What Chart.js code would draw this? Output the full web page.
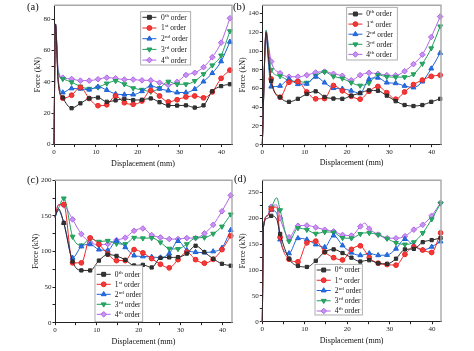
<!DOCTYPE html>
<html>
<head>
<meta charset="utf-8">
<script src="https://cdn.jsdelivr.net/npm/chart.js@4.4.1/dist/chart.umd.min.js"></script>
<style>
  body { margin:0; background:#fff; width:474px; height:351px; position:relative; overflow:hidden; font-family:"Liberation Serif", serif; }
  .panel { position:absolute; }
  .tag { position:absolute; font-size:10.5px; line-height:1; color:#111; }
</style>
</head>
<body>
<canvas id="chart_a" class="panel" width="237" height="175" style="left:0;top:0"></canvas>
<canvas id="chart_b" class="panel" width="237" height="175" style="left:237px;top:0"></canvas>
<canvas id="chart_c" class="panel" width="237" height="176" style="left:0;top:175px"></canvas>
<canvas id="chart_d" class="panel" width="237" height="176" style="left:237px;top:175px"></canvas>
<div class="tag" style="left:27px;top:2px">(a)</div>
<div class="tag" style="left:233px;top:2px">(b)</div>
<div class="tag" style="left:27px;top:175px">(c)</div>
<div class="tag" style="left:234px;top:174px">(d)</div>
<script>
// displacement (mm) - markers sit every 2.1 mm, the first points are the initial peak
var disp_a = [0, 0.35, 1.0, 2.1, 4.2, 6.3, 8.4, 10.5, 12.6, 14.7, 16.8, 18.9, 21, 23.1, 25.2, 27.3, 29.4, 31.5, 33.6, 35.7, 37.8, 39.9, 42];
var force_a0 = [0, 77, 40, 30, 23.2, 26.3, 29.4, 30, 27.3, 28.2, 29.2, 28.4, 28.6, 29.4, 27, 24.9, 24.9, 25, 23.6, 25, 34, 37.3, 38.5];
var force_a1 = [0, 77, 40, 29.6, 31.5, 36.5, 29.4, 24.8, 25.4, 31, 26.7, 25.7, 27.8, 34.5, 31, 27.2, 28.6, 30.4, 31, 29.8, 33.6, 42.3, 47.5];
var force_a2 = [0, 77, 42, 33.2, 35.8, 35.6, 35, 36.9, 34.8, 32.3, 31.9, 31.9, 34, 37.5, 35.6, 34.4, 33.2, 33.2, 35.4, 40.2, 45.6, 53.1, 65.6];
var force_a3 = [0, 77, 46, 41.9, 39.8, 37.1, 35.6, 36.5, 39, 40.6, 38.5, 36, 35, 33.8, 36, 40.2, 38.5, 38.5, 40.6, 45, 50.6, 56.9, 72.4];
var force_a4 = [0, 77, 48, 42.7, 41.9, 40.8, 40.8, 41.7, 42.7, 42.3, 41.5, 41.5, 41, 41, 39.5, 38, 40, 44.4, 45.8, 49.4, 55.8, 65.1, 80.7];

var disp_b = [0, 0.9, 1.4, 2.1, 4.2, 6.3, 8.4, 10.5, 12.6, 14.7, 16.8, 18.9, 21, 23.1, 25.2, 27.3, 29.4, 31.5, 33.6, 35.7, 37.8, 39.9, 42];
var force_b0 = [0, 120, 95, 68, 50.7, 45.8, 49, 54.2, 57, 51, 49.3, 49, 52.4, 55.2, 58, 57.6, 52.4, 46.5, 42.4, 41.3, 42.4, 45.8, 49];
var force_b1 = [0, 120, 98, 70.2, 50.7, 66.7, 67.4, 56.3, 49, 49.3, 63.2, 57.6, 51.7, 48.6, 57, 62.2, 55.6, 48.6, 56.3, 64.2, 69, 73, 74.3];
var force_b2 = [0, 118, 90, 62, 62.8, 70, 64.6, 65, 72.6, 66.3, 60.4, 59.7, 57.6, 54.9, 70.1, 71.5, 66.3, 65.6, 62.8, 61.1, 67.4, 81.3, 98];
var force_b3 = [0, 122, 105, 80, 73.3, 68.4, 67.7, 66.3, 73.6, 77.8, 72.9, 70.8, 66.3, 63.2, 66, 74.7, 72.6, 72.2, 72.2, 75.3, 86.5, 103, 126.4];
var force_b4 = [0, 122, 108, 88.9, 76.4, 72.6, 72.6, 74.3, 77.1, 78.1, 75.7, 73.6, 68.8, 74.3, 76.7, 75.7, 74.3, 74, 78.5, 86.1, 96.2, 115, 136.8];

var disp_c = [0, 0.8, 2.1, 4.2, 6.3, 8.4, 10.5, 12.6, 14.7, 16.8, 18.9, 21, 23.1, 25.2, 27.3, 29.4, 31.5, 33.6, 35.7, 37.8, 39.9, 42];
var force_c0 = [148, 160, 140, 85.9, 73.4, 73.3, 87.2, 95.6, 93.7, 88.2, 80.3, 81.2, 77.5, 91, 91.6, 92, 97, 108, 99, 89.7, 82.7, 80];
var force_c1 = [148, 165, 166, 84, 84, 119, 110, 96.5, 87.2, 87.2, 102.5, 98, 90, 82, 77, 88.5, 99, 88.5, 83.5, 89, 102.6, 122];
var force_c2 = [148, 158, 140, 91, 107, 110, 102.6, 101.6, 115, 105.8, 94.2, 93, 92.3, 91.4, 97, 114.5, 102, 99, 98.5, 100, 105, 130];
var force_c3 = [148, 160, 174.5, 120.8, 108.5, 118.3, 113.7, 115, 111, 110.4, 119.3, 118.5, 119, 112.8, 104, 103.5, 110.3, 119, 119.5, 125, 135, 152];
var force_c4 = [148, 166, 164.7, 145, 124.4, 112.8, 109.5, 110.4, 116, 119.3, 129, 132.3, 123, 119.7, 117.4, 117.4, 118.8, 118.8, 125.3, 137.4, 156.4, 178.7];

var disp_d = [0, 0.3, 1.2, 2.1, 3.4, 4.2, 6.3, 8.4, 10.5, 12.6, 14.7, 16.8, 18.9, 21, 23.1, 24.1, 25.2, 27.3, 29.4, 31.5, 33.6, 35.7, 37.8, 39.9, 42];
var force_d0 = [0, 185, 200, 205, 198, 170, 122, 108, 106, 118, 135, 140, 133, 124, 116.5, 118, 119, 113, 112, 122, 140, 141, 154, 158, 162];
var force_d1 = [0, 185, 205, 218, 222, 163.5, 121, 116, 152.7, 156, 135, 124, 119.6, 140, 147, 138, 124, 113.3, 110.7, 109.5, 130.5, 145, 138.7, 134, 172];
var force_d2 = [0, 185, 205, 216, 210, 159, 132.3, 161.6, 159, 149.5, 144.4, 166.7, 147.6, 133.6, 128.6, 130, 132.4, 128.6, 129.2, 141.2, 160, 147, 138.7, 145, 155.3];
var force_d3 = [0, 185, 205, 220, 240, 216, 155.8, 181.3, 178, 170.5, 173.7, 173, 162.2, 161.6, 170, 172, 171.8, 168.7, 161, 152.7, 149.6, 154, 171.8, 198.5, 229];
var force_d4 = [0, 185, 205, 222.6, 226, 200.4, 163.5, 185.8, 186.4, 182.6, 178.1, 174.9, 168, 166.7, 184.5, 191, 180, 168.7, 161.6, 161.6, 165.5, 178.2, 187.7, 205, 230.3];

var order_num = ['0', '1', '2', '3', '4'];
var order_sup = ['th', 'st', 'nd', 'rd', 'th'];

// estilo de cada ordem
var line_colors = ['#2b2b2b', '#ee2424', '#1d62d6', '#1f9e5c', '#b067e6'];
var fill_colors = ['#333333', '#f03a3a', '#2a6ee0', '#2aa866', '#c891f2'];
var shapes = ['rect', 'circle', 'triangle', 'down', 'rectRot'];
var sizes = [2.3, 2.4, 2.8, 2.8, 2.8];

var serif = 'Liberation Serif';

function isMarker(x) {
  var k = x / 2.1;
  return k > 0.5 && Math.abs(k - Math.round(k)) < 1e-6;
}

function drawMarker(ctx, i, x, y) {
  var r = sizes[i];
  ctx.fillStyle = fill_colors[i];
  ctx.strokeStyle = line_colors[i];
  ctx.lineWidth = 1;
  ctx.beginPath();
  if (shapes[i] == 'rect') {
    ctx.rect(x - r * 0.85, y - r * 0.85, r * 1.7, r * 1.7);
  } else if (shapes[i] == 'circle') {
    ctx.arc(x, y, r, 0, Math.PI * 2);
  } else if (shapes[i] == 'triangle') {
    ctx.moveTo(x, y - r); ctx.lineTo(x + r * 0.87, y + r * 0.5); ctx.lineTo(x - r * 0.87, y + r * 0.5); ctx.closePath();
  } else if (shapes[i] == 'down') {
    ctx.moveTo(x, y + r); ctx.lineTo(x + r * 0.87, y - r * 0.5); ctx.lineTo(x - r * 0.87, y - r * 0.5); ctx.closePath();
  } else {
    ctx.moveTo(x, y - r); ctx.lineTo(x + r, y); ctx.lineTo(x, y + r); ctx.lineTo(x - r, y); ctx.closePath();
  }
  ctx.fill();
  ctx.stroke();
}

// legenda com sobrescrito (0th, 1st ...), o legend normal nao faz isso
var orderLegend = {
  id: 'orderLegend',
  afterDraw: function (chart, args, o) {
    var ctx = chart.ctx;
    ctx.save();
    ctx.fillStyle = '#fff';
    ctx.strokeStyle = '#9a9a9a';
    ctx.lineWidth = 0.8;
    ctx.fillRect(o.x, o.y, o.w, o.h);
    ctx.strokeRect(o.x, o.y, o.w, o.h);
    for (var i = 0; i < 5; i++) {
      var yy = o.y + o.first + i * o.gap;
      ctx.strokeStyle = line_colors[i];
      ctx.lineWidth = 1;
      ctx.beginPath();
      ctx.moveTo(o.x + 1.7, yy);
      ctx.lineTo(o.x + 15.7, yy);
      ctx.stroke();
      drawMarker(ctx, i, o.x + 8.7, yy);
      ctx.fillStyle = '#111';
      ctx.textBaseline = 'middle';
      ctx.font = '7.5px "' + serif + '"';
      var tx = o.x + o.text;
      ctx.fillText(order_num[i], tx, yy + 0.5);
      tx += ctx.measureText(order_num[i]).width;
      ctx.font = '5px "' + serif + '"';
      ctx.fillText(order_sup[i], tx + 0.3, yy - 2);
      tx += ctx.measureText(order_sup[i]).width + 0.3;
      ctx.font = '7.5px "' + serif + '"';
      ctx.fillText(' order', tx, yy + 0.5);
    }
    ctx.restore();
  }
};

// moldura cinza em cima e na direita
var topRightFrame = {
  id: 'topRightFrame',
  afterDatasetsDraw: function (chart) {
    var a = chart.chartArea;
    var ctx = chart.ctx;
    ctx.save();
    ctx.strokeStyle = '#a8a8a8';
    ctx.lineWidth = 1.4;
    ctx.beginPath();
    ctx.moveTo(a.left, a.top);
    ctx.lineTo(a.right, a.top);
    ctx.lineTo(a.right, a.bottom);
    ctx.stroke();
    ctx.restore();
  }
};

function makeChart(id, disp, forces, L) {
  var datasets = [];
  for (var i = 0; i < forces.length; i++) {
    var ys = forces[i];
    var r = sizes[i];
    datasets.push({
      label: order_num[i] + order_sup[i] + ' order',
      data: disp.map(function (x, j) { return { x: x, y: ys[j] }; }),
      borderColor: line_colors[i],
      backgroundColor: fill_colors[i],
      borderWidth: 1,
      pointStyle: shapes[i] == 'down' ? 'triangle' : shapes[i],
      pointRotation: shapes[i] == 'down' ? 180 : 0,
      pointRadius: disp.map(function (x) { return isMarker(x) ? r : 0; }),
      pointBorderWidth: 1,
      cubicInterpolationMode: 'monotone',
      clip: 5
    });
  }

  new Chart(document.getElementById(id), {
    type: 'line',
    data: { datasets: datasets },
    plugins: [topRightFrame, orderLegend],
    options: {
      responsive: false,
      animation: false,
      layout: { padding: { top: L.padTop, right: L.padRight, left: 0, bottom: 0 } },
      plugins: {
        legend: { display: false },
        tooltip: { enabled: false },
        orderLegend: L.legend
      },
      scales: {
        x: {
          type: 'linear', min: 0, max: L.xMax,
          ticks: {
            stepSize: 5, includeBounds: false, autoSkip: false, maxRotation: 0, padding: 1,
            font: { family: serif, size: 7 }, color: '#222',
            callback: function (v) { return v % 10 === 0 ? v : ''; }
          },
          grid: { drawOnChartArea: false, tickLength: 2.5, color: '#222' },
          border: { color: '#222', width: 1 },
          title: { display: true, text: 'Displacement (mm)', font: { family: serif, size: 8 }, color: '#111', padding: { top: 0, bottom: L.xTitlePad } },
          afterFit: function (s) { s.height = L.xHeight; }
        },
        y: {
          min: 0, max: L.yMax,
          ticks: {
            stepSize: L.yStep, includeBounds: false, autoSkip: false, padding: 1,
            font: { family: serif, size: 7 }, color: '#222',
            callback: function (v) { return v % L.yLabel === 0 ? v : ''; }
          },
          grid: { drawOnChartArea: false, tickLength: 2.5, color: '#222' },
          border: { color: '#222', width: 1 },
          title: { display: true, text: 'Force (kN)', font: { family: serif, size: 8 }, color: '#111', padding: { top: L.yTitlePad, bottom: 0 } },
          afterFit: function (s) { s.width = L.yWidth; }
        }
      }
    }
  });
}

makeChart('chart_a', disp_a, [force_a0, force_a1, force_a2, force_a3, force_a4], {
  xMax: 42.5, yMax: 89, yStep: 10, yLabel: 20,
  yWidth: 54, xHeight: 30.5, padTop: 2, padRight: 2, yTitlePad: 33, xTitlePad: 6.2,
  legend: { x: 140.7, y: 11.7, w: 50, h: 53.3, first: 5.6, gap: 10.7, text: 20.3 }
});

makeChart('chart_b', disp_b, [force_b0, force_b1, force_b2, force_b3, force_b4], {
  xMax: 42.2, yMax: 149, yStep: 10, yLabel: 20,
  yWidth: 25.3, xHeight: 30.3, padTop: 2, padRight: 33, yTitlePad: 1.5, xTitlePad: 6.9,
  legend: { x: 109.7, y: 7.3, w: 50.6, h: 52.7, first: 6.7, gap: 10.1, text: 19.6 }
});

makeChart('chart_c', disp_c, [force_c0, force_c1, force_c2, force_c3, force_c4], {
  xMax: 42.3, yMax: 200, yStep: 25, yLabel: 50,
  yWidth: 55, xHeight: 28.3, padTop: 4, padRight: 3, yTitlePad: 31.5, xTitlePad: 4.5,
  legend: { x: 95, y: 90.7, w: 47.7, h: 56, first: 8.6, gap: 10, text: 19.7 }
});

makeChart('chart_d', disp_d, [force_d0, force_d1, force_d2, force_d3, force_d4], {
  xMax: 42.1, yMax: 274, yStep: 25, yLabel: 50,
  yWidth: 25.3, xHeight: 29.3, padTop: 3.3, padRight: 33, yTitlePad: 1.4, xTitlePad: 5.5,
  legend: { x: 78, y: 89.3, w: 47.3, h: 50.7, first: 5.7, gap: 10.25, text: 19.7 }
});
</script>
</body>
</html>
